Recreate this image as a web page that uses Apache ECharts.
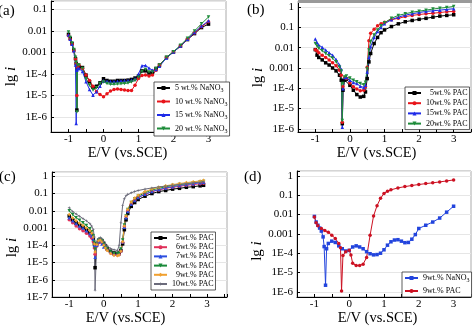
<!DOCTYPE html>
<html><head><meta charset="utf-8">
<script src="https://cdn.jsdelivr.net/npm/echarts@6/dist/echarts.min.js"></script>
<style>html,body{margin:0;padding:0;background:#fff}#c{width:474px;height:327px}</style>
</head><body><div id="c"></div>
<script>
// ---------- Panel (a): NaNO3 ----------
const EA = [-1,-0.95,-0.9,-0.85,-0.8,-0.78,-0.76,-0.74,-0.7,-0.6,-0.5,-0.4,-0.3,-0.2,-0.1,
  0,0.1,0.2,0.3,0.4,0.5,0.6,0.7,0.8,0.9,1.0,1.1,1.2,1.3,1.4,1.5,1.6,1.8,2.0,2.2,2.4,2.6,2.8,3.0];
const A5  = [7e-3,4.5e-3,2.6e-3,1.3e-3,5.2e-4,3.1e-4,2.1e-6,1.8e-4,2.2e-4,2e-4,8.9e-5,4.4e-5,2.4e-5,2.7e-5,3.9e-5,
  6e-5,5e-5,4.6e-5,4.6e-5,5e-5,5e-5,5e-5,5.2e-5,5.6e-5,6.5e-5,8e-5,1.4e-4,1.4e-4,1.1e-4,1.2e-4,1.8e-4,2.6e-4,5.9e-4,1.07e-3,2e-3,4e-3,7.6e-3,0.0145,0.021];
const A10 = [6e-3,4e-3,2.4e-3,1.2e-3,5e-4,3e-4,1e-5,2e-4,2.6e-4,1.8e-4,9e-5,5e-5,2.7e-5,1.5e-5,1.1e-5,
  8.7e-6,1.2e-5,1.6e-5,1.9e-5,2e-5,1.9e-5,1.8e-5,1.7e-5,1.7e-5,3e-5,6.2e-5,8.5e-5,9e-5,8e-5,9e-5,1.5e-4,2.6e-4,5.9e-4,1.05e-3,2e-3,4.2e-3,8e-3,0.016,0.027];
const A15 = [6.5e-3,4.2e-3,2.4e-3,1.2e-3,2.6e-4,5e-7,1.5e-4,1.8e-4,1.8e-4,1.3e-4,4.4e-5,1.9e-5,1.04e-5,1.5e-5,2.7e-5,
  4.8e-5,4.6e-5,4.5e-5,4.5e-5,4.6e-5,4.8e-5,5e-5,5e-5,5.2e-5,6e-5,1e-4,2.4e-4,2.5e-4,1.9e-4,1.5e-4,1.6e-4,2.3e-4,5.6e-4,1.05e-3,2e-3,4.2e-3,8.5e-3,0.017,0.03];
const A20 = [9e-3,5e-3,2.8e-3,1.4e-3,6e-4,3.5e-4,1.7e-6,2.6e-4,2.6e-4,1.8e-4,6e-5,3e-5,1.8e-5,2.3e-5,3.6e-5,
  4.3e-5,3.6e-5,3.3e-5,3.3e-5,3.4e-5,3.5e-5,3.6e-5,3.8e-5,4.3e-5,5e-5,7e-5,1.3e-4,1.6e-4,1.25e-4,1.25e-4,1.8e-4,2.6e-4,6e-4,1.1e-3,2.2e-3,4.6e-3,0.01,0.022,0.045];

// ---------- Panel (b): PAC 5-20 wt.% ----------
const EB = [-1,-0.95,-0.9,-0.8,-0.7,-0.6,-0.5,-0.4,-0.3,-0.25,-0.22,-0.2,-0.15,-0.1,
  0,0.1,0.2,0.3,0.4,0.45,0.5,0.55,0.6,0.7,0.8,0.9,1.0,1.2,1.4,1.6,1.8,2.0,2.2,2.4,2.6,2.8,3.0];
const B5  = [8e-3,4.3e-3,3.3e-3,2.5e-3,1.8e-3,1.4e-3,1e-3,7.2e-4,4.4e-4,2.5e-4,1.8e-6,8e-5,2.5e-4,2.8e-4,
  1.4e-4,8e-5,4.9e-5,3.7e-5,4e-5,6.6e-5,3e-4,2e-3,5.2e-3,0.016,0.032,0.055,0.075,0.11,0.15,0.19,0.22,0.25,0.28,0.32,0.36,0.39,0.42];
const B10 = [8e-3,7e-3,5.6e-3,4.3e-3,3.3e-3,2.5e-3,1.8e-3,1.3e-3,7.8e-4,4.4e-4,2.1e-6,1.2e-4,3.4e-4,3e-4,
  1.8e-4,1.2e-4,9.2e-5,7.5e-5,7.9e-5,1.2e-4,1.1e-3,0.022,0.051,0.08,0.12,0.15,0.18,0.24,0.28,0.34,0.39,0.43,0.47,0.5,0.54,0.59,0.61];
const B15 = [0.027,0.018,0.0135,0.0105,7.6e-3,5.6e-3,4.3e-3,2.6e-3,1.4e-3,8.5e-4,1.2e-6,9.6e-5,3.4e-4,3.4e-4,
  2.5e-4,1.9e-4,1.7e-4,1.25e-4,1.1e-4,1.4e-4,6.4e-4,3.3e-3,0.011,0.032,0.062,0.1,0.15,0.24,0.32,0.4,0.47,0.54,0.61,0.66,0.71,0.77,0.83];
const B20 = [0.016,0.012,9.3e-3,7e-3,5.2e-3,4e-3,3e-3,2e-3,1.1e-3,7.2e-4,2.6e-6,1.7e-4,3.6e-4,4e-4,
  3.2e-4,2.5e-4,2.1e-4,1.7e-4,1.5e-4,2e-4,9.5e-4,7.6e-3,0.02,0.042,0.075,0.12,0.17,0.28,0.39,0.47,0.56,0.63,0.71,0.8,0.89,0.96,1.08];

// ---------- Panel (c): PAC 5-10 wt.% ----------
const EC = [-1,-0.9,-0.8,-0.7,-0.6,-0.5,-0.4,-0.35,-0.3,-0.27,-0.25,-0.2,-0.15,-0.1,-0.05,
  0,0.05,0.1,0.2,0.3,0.4,0.45,0.5,0.55,0.6,0.65,0.7,0.8,0.9,1.0,1.2,1.4,1.6,1.8,2.0,2.2,2.4,2.6,2.8,2.9];
const C5  = [5e-3,3e-3,2e-3,1.5e-3,1.1e-3,8e-4,5.5e-4,4e-4,2.5e-4,1.2e-4,5e-6,1.2e-4,1.7e-4,2e-4,1.8e-4,
  1.3e-4,9e-5,6.5e-5,4.5e-5,3.6e-5,3.4e-5,3.5e-5,5e-5,1.2e-4,8e-4,3e-3,7e-3,0.018,0.03,0.045,0.07,0.1,0.13,0.15,0.18,0.2,0.23,0.25,0.28,0.3];
const C6  = [3e-3,2e-3,1.3e-3,9e-4,7e-4,5e-4,3.5e-4,2.6e-4,1.6e-4,7e-5,3e-5,9e-5,1.4e-4,1.6e-4,1.5e-4,
  1.1e-4,7.5e-5,5.5e-5,3.5e-5,2.8e-5,2.7e-5,2.9e-5,4.5e-5,1.5e-4,1.2e-3,4.5e-3,0.01,0.025,0.04,0.06,0.09,0.13,0.16,0.2,0.23,0.26,0.3,0.33,0.37,0.4];
const C7  = [4e-3,2.6e-3,1.8e-3,1.3e-3,1e-3,7e-4,4.8e-4,3.6e-4,2.2e-4,1e-4,2e-5,1e-4,1.6e-4,1.8e-4,1.2e-4,
  8e-5,9e-5,6e-5,4e-5,3.2e-5,3e-5,3.2e-5,5e-5,1.6e-4,1.1e-3,4e-3,9e-3,0.024,0.04,0.058,0.09,0.13,0.17,0.21,0.25,0.29,0.33,0.37,0.42,0.45];
const C8  = [0.01,6e-3,4e-3,2.8e-3,2e-3,1.4e-3,9e-4,6e-4,3.5e-4,1.5e-4,6e-5,1.2e-4,2e-4,2.2e-4,1.8e-4,
  1.2e-4,8e-5,6e-5,4e-5,3.3e-5,3.2e-5,3.5e-5,6e-5,2e-4,1.5e-3,5e-3,0.012,0.03,0.05,0.07,0.11,0.16,0.2,0.25,0.29,0.33,0.37,0.42,0.47,0.5];
const C9  = [6e-3,3.8e-3,2.6e-3,1.9e-3,1.4e-3,1e-3,7e-4,5e-4,3e-4,1.2e-4,4e-5,1.1e-4,1.8e-4,2e-4,1.6e-4,
  1e-4,7e-5,5e-5,3.3e-5,2.6e-5,2.5e-5,2.7e-5,4.5e-5,1.6e-4,1.3e-3,5e-3,0.012,0.032,0.055,0.08,0.13,0.18,0.23,0.28,0.33,0.38,0.43,0.48,0.54,0.58];
const C10 = [0.015,9e-3,6.5e-3,4.8e-3,3.5e-3,2.6e-3,1.8e-3,1.3e-3,8e-4,3e-4,2.5e-7,1.5e-4,2.5e-4,2.8e-4,2.4e-4,
  1.7e-4,1.2e-4,9e-5,6.5e-5,5.5e-5,5e-5,1e-4,2e-3,0.02,0.05,0.075,0.09,0.11,0.13,0.15,0.18,0.21,0.24,0.27,0.3,0.34,0.38,0.42,0.46,0.48];

// ---------- Panel (d): 9 wt.% comparison ----------
const ED_N = [-1,-0.95,-0.9,-0.85,-0.8,-0.75,-0.72,-0.68,-0.65,-0.6,-0.5,-0.4,-0.3,-0.2,-0.1,
  0,0.1,0.2,0.3,0.4,0.5,0.6,0.7,0.8,0.9,1.0,1.1,1.2,1.3,1.4,1.5,1.6,1.7,1.8,1.9,2.0,2.2,2.4,2.6,2.8,3.0];
const D_N  = [8e-3,4.1e-3,2.8e-3,2e-3,1.4e-3,7e-4,2.2e-4,2.2e-6,1.7e-4,3.2e-4,4.2e-4,3.6e-4,2.4e-4,1.7e-4,1.3e-4,
  1.4e-4,2.1e-4,2.4e-4,2.1e-4,1.7e-4,1.2e-4,9.4e-5,8.2e-5,8.5e-5,1e-4,1.5e-4,2.6e-4,3.9e-4,4.8e-4,5e-4,4.2e-4,3.5e-4,3.6e-4,5.3e-4,9.2e-4,1.9e-3,2.8e-3,4.1e-3,6.6e-3,0.0133,0.027];
const ED_P = [-1,-0.95,-0.9,-0.8,-0.7,-0.6,-0.5,-0.4,-0.3,-0.25,-0.22,-0.18,-0.1,
  0,0.05,0.1,0.2,0.3,0.4,0.5,0.6,0.7,0.8,0.9,1.0,1.1,1.2,1.4,1.6,1.8,2.0,2.2,2.4,2.6,2.8,3.0];
const D_P  = [7.4e-3,3.8e-3,2.6e-3,1.9e-3,1.5e-3,1.2e-3,8.5e-4,5.8e-4,3.2e-4,1.9e-4,1.1e-6,7.5e-5,1.2e-4,
  1.4e-4,8e-5,3e-5,2.3e-5,2.3e-5,2.7e-5,6e-5,8.5e-4,8.4e-3,0.029,0.069,0.125,0.16,0.19,0.24,0.28,0.32,0.36,0.4,0.44,0.49,0.55,0.62];

// ---------- rendering ----------
const SERIF = '"Liberation Serif", "Times New Roman", serif';
const pairs = (xs, ys) => xs.map((x, i) => [x, ys[i]]);
const DOWN = 180;

const SERIES = [
  {id:'a5',  g:0, label:'5 wt.% NaNO{s|3}',  x:EA, y:A5,  c:'#000000', sym:'rect'},
  {id:'a10', g:0, label:'10 wt.% NaNO{s|3}', x:EA, y:A10, c:'#e8141a', sym:'circle'},
  {id:'a15', g:0, label:'15 wt.% NaNO{s|3}', x:EA, y:A15, c:'#1f2be8', sym:'triangle'},
  {id:'a20', g:0, label:'20 wt.% NaNO{s|3}', x:EA, y:A20, c:'#1e8c3a', sym:'triangle', rot:DOWN},
  {id:'b5',  g:1, label:'  5wt.% PAC',  x:EB, y:B5,  c:'#000000', sym:'rect'},
  {id:'b10', g:1, label:'10wt.% PAC', x:EB, y:B10, c:'#e8141a', sym:'circle'},
  {id:'b15', g:1, label:'15wt.% PAC', x:EB, y:B15, c:'#1f2be8', sym:'triangle'},
  {id:'b20', g:1, label:'20wt.% PAC', x:EB, y:B20, c:'#1e8c3a', sym:'triangle', rot:DOWN},
  {id:'c5',  g:2, label:'  5wt.% PAC',  x:EC, y:C5,  c:'#000000', sym:'rect'},
  {id:'c6',  g:2, label:'  6wt.% PAC',  x:EC, y:C6,  c:'#e0305a', sym:'circle'},
  {id:'c7',  g:2, label:'  7wt.% PAC',  x:EC, y:C7,  c:'#2b4de0', sym:'triangle'},
  {id:'c8',  g:2, label:'  8wt.% PAC',  x:EC, y:C8,  c:'#1a8a3a', sym:'triangle', rot:DOWN},
  {id:'c9',  g:2, label:'  9wt.% PAC',  x:EC, y:C9,  c:'#f0a030', sym:'diamond'},
  {id:'c10', g:2, label:'10wt.% PAC', x:EC, y:C10, c:'#6b6b7b', sym:'path://M0,-1L0.25,-0.25L1,0L0.25,0.25L0,1L-0.25,0.25L-1,0L-0.25,-0.25Z'},
  {id:'dN',  g:3, label:'9wt.% NaNO{s|3}', x:ED_N, y:D_N, c:'#2244dd', sym:'rect'},
  {id:'dP',  g:3, label:'9wt.% PAC',       x:ED_P, y:D_P, c:'#cc1122', sym:'circle'}
];
const LABELS = {};
SERIES.forEach(s => LABELS[s.id] = s.label);

const GRIDS = [
  {left:51,  top:1,   width:175, height:131},
  {left:298, top:1,   width:174, height:131},
  {left:52,  top:172, width:175, height:126},
  {left:297, top:171, width:175, height:128}
];
const XMAX = [3.5, 3.5, 3.58, 3.5];
const YR = [[2e-7, 0.25, 31.5], [7e-7, 2, 30.5], [1e-7, 1.77, 32.5], [5.4e-7, 1.8, 29.5]];
const XNAME_SHIFT = [22, 16, 28, 13];   // title sits left of the plot centre
const YNAME_SHIFT = [20, 22, 26, 34];   // y title sits below the plot centre

function fmtY(v) {
  const e = Math.log10(v);
  const r = Math.round(e);
  if (Math.abs(e - r) > 0.02) return '';
  if (r >= 0) return String(Math.pow(10, r));
  if (r >= -3) return (Math.pow(10, r)).toFixed(-r);
  return '1E' + r;
}
function fmtX(v) {
  const r = Math.round(v);
  return Math.abs(v - r) < 1e-6 ? String(r) : '';
}

const xAxis = GRIDS.map((g, i) => ({
  type:'value', gridIndex:i, min:-1.5, max:XMAX[i], interval:0.5,
  axisLine:{onZero:false, lineStyle:{color:'#000', width:1}},
  axisTick:{inside:true, length:3, lineStyle:{color:'#000'}},
  axisLabel:{formatter:fmtX, fontFamily:SERIF, fontSize:11, color:'#000', margin:2},
  splitLine:{show:false},
  name:'E/V (vs.SCE)', nameLocation:'middle', nameGap:14,
  nameTextStyle:{fontFamily:SERIF, fontSize:14.5, color:'#000', padding:[0, XNAME_SHIFT[i], 0, 0]}
}));
const yAxis = GRIDS.map((g, i) => ({
  type:'log', logBase:10, gridIndex:i, min:YR[i][0], max:YR[i][1],
  axisLine:{show:true, onZero:false, lineStyle:{color:'#000', width:1}},
  axisTick:{show:true, inside:true, length:3, lineStyle:{color:'#000'}},
  axisLabel:{formatter:fmtY, fontFamily:SERIF, fontSize:11, color:'#000', margin:4},
  splitLine:{show:true, lineStyle:{color:'#e6e6e6', width:1}},
  name:'{n|lg }{i|i}', nameLocation:'middle', nameGap:YR[i][2],
  nameTextStyle:{padding:[0, YNAME_SHIFT[i], 0, 0], rich:{
    n:{fontFamily:SERIF, fontSize:15, color:'#000'},
    i:{fontFamily:SERIF, fontSize:15, fontStyle:'italic', color:'#000'}
  }}
}));

const series = SERIES.map(s => ({
  id:s.id, name:s.id, type:'line', xAxisIndex:s.g, yAxisIndex:s.g,
  data:pairs(s.x, s.y), symbol:s.sym, symbolSize:3.5, symbolRotate:s.rot || 0,
  showSymbol:true, showAllSymbol:true, animation:false,
  lineStyle:{color:s.c, width:1}, itemStyle:{color:s.c}
}));

const RICH = {s:{fontFamily:SERIF, fontSize:6, color:'#000', padding:[5,0,0,0]}};
function legendFor(g, opts) {
  return Object.assign({
    data: SERIES.filter(s => s.g === g).map(s => s.id),
    orient:'vertical', itemWidth:13, itemHeight:5, itemGap:3.5,
    padding:[2,2,2,2], borderColor:'#333', borderWidth:0.8, backgroundColor:'#fff', borderRadius:0,
    formatter: n => LABELS[n],
    selectedMode:false,
    textStyle:{fontFamily:SERIF, fontSize:8, color:'#000', rich:RICH}
  }, opts);
}

const option = {
  animation:false,
  backgroundColor:'#fff',
  grid: GRIDS.map(g => Object.assign({show:true, borderColor:'#aaa', borderWidth:1, containLabel:false}, g)),
  xAxis, yAxis, series,
  legend: [
    legendFor(0, {left:154, top:82, itemGap:4}),
    legendFor(1, {left:405, top:87, itemGap:2.2}),
    legendFor(2, {left:151, top:232, itemGap:1.2}),
    legendFor(3, {left:402, top:272, itemGap:3.5})
  ],
  graphic: [
    {type:'rect', shape:{x:298, y:0, width:174, height:3}, style:{fill:'#9a9a9a'}, z:10},
    {type:'text', left:-2, top:4, style:{text:'(a)', font:'15px "Liberation Serif"', fill:'#000'}},
    {type:'text', left:247, top:3, style:{text:'(b)', font:'15px "Liberation Serif"', fill:'#000'}},
    {type:'text', left:-1, top:170, style:{text:'(c)', font:'15px "Liberation Serif"', fill:'#000'}},
    {type:'text', left:244, top:170, style:{text:'(d)', font:'15px "Liberation Serif"', fill:'#000'}}
  ]
};
const chart = echarts.init(document.getElementById('c'), null, {renderer:'canvas'});
chart.setOption(option);
</script></body></html>
